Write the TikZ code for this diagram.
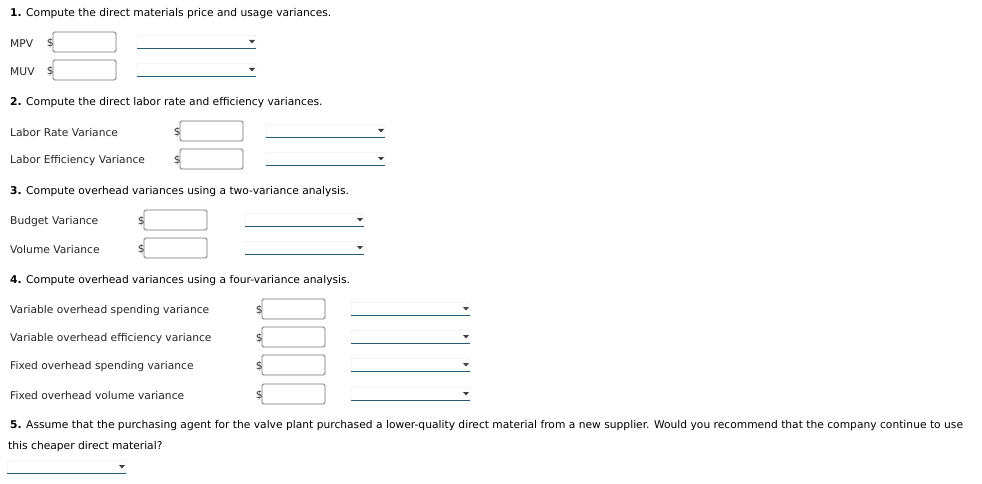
\documentclass[tikz,border=0pt]{standalone}
\usepackage{fontspec}
\setmainfont{DejaVu Sans}
\definecolor{ddline}{HTML}{2A5A7A}
\begin{document}
\begin{tikzpicture}[x=1pt,y=-1pt,
  txt/.style={anchor=west,inner sep=0pt,yshift=-1.5pt,font=\fontsize{10.7}{12}\selectfont,text=black!85},
  ttl/.style={anchor=west,inner sep=0pt,yshift=-1.5pt,font=\fontsize{10.7}{12}\selectfont,text=black},
  dol/.style={anchor=east,inner sep=0pt,yshift=-1pt,font=\fontsize{10.7}{12}\selectfont,text=black!80},
  inbox/.style={draw=black!55,rounded corners=1.5pt,line width=0.8pt,fill=white}]
\useasboundingbox (0,0) rectangle (982,484);
\newcommand{\inp}[3]{% name, x, y(center)
  \draw[inbox] (#2,#3-10) rectangle (#2+63,#3+10);
  \node[dol] (#1) at (#2+1,#3) {\$};}
\newcommand{\dd}[3]{% name, x, y center
  \draw[draw=black!12,fill=white,rounded corners=2pt] (#2,#3-6.5) rectangle (#2+119,#3+6.5);
  \draw[draw=ddline,line width=0.8pt] (#2,#3+6.5) -- (#2+119,#3+6.5);
  \fill[black!75] (#2+112,#3-2) -- (#2+118,#3-2) -- (#2+115,#3+1.5) -- cycle;
  \coordinate (#1) at (#2,#3);}
\node[ttl] (t1) at (10,12) {\textbf{1.} Compute the direct materials price and usage variances.};
\node[txt] (l1) at (10,42) {MPV};
\inp{d1}{53}{42}\dd{s1}{137}{42}
\node[txt] (l2) at (10,70) {MUV};
\inp{d2}{53}{70}\dd{s2}{137}{70}
\node[ttl] (t2) at (10,101) {\textbf{2.} Compute the direct labor rate and efficiency variances.};
\node[txt] (l3) at (10,131) {Labor Rate Variance};
\inp{d3}{180}{131}\dd{s3}{266}{131}
\node[txt] (l4) at (10,159) {Labor Efficiency Variance};
\inp{d4}{180}{159}\dd{s4}{266}{159}
\node[ttl] (t3) at (10,190) {\textbf{3.} Compute overhead variances using a two-variance analysis.};
\node[txt] (l5) at (10,220) {Budget Variance};
\inp{d5}{144}{220}\dd{s5}{245}{220}
\node[txt] (l6) at (10,248) {Volume Variance};
\inp{d6}{144}{248}\dd{s6}{245}{248}
\node[ttl] (t4) at (10,279) {\textbf{4.} Compute overhead variances using a four-variance analysis.};
\node[txt] (l7) at (10,309) {Variable overhead spending variance};
\inp{d7}{262}{309}\dd{s7}{351}{309}
\node[txt] (l8) at (10,337) {Variable overhead efficiency variance};
\inp{d8}{262}{337}\dd{s8}{351}{337}
\node[txt] (l9) at (10,365) {Fixed overhead spending variance};
\inp{d9}{262}{365}\dd{s9}{351}{365}
\node[txt] (l10) at (10,394) {Fixed overhead volume variance};
\inp{d10}{262}{394}\dd{s10}{351}{394}
\node[ttl] (t5) at (10,424) {\textbf{5.} Assume that the purchasing agent for the valve plant purchased a lower-quality direct material from a new supplier. Would you recommend that the company continue to use};
\node[ttl] (t5b) at (8,445) {this cheaper direct material?};
\dd{s11}{7}{467}
\end{tikzpicture}
\end{document}
